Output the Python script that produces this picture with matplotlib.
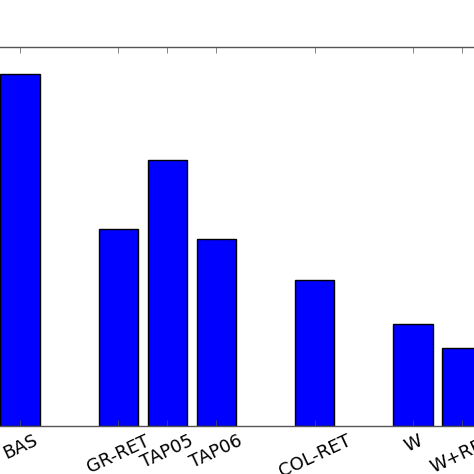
import matplotlib
matplotlib.use("Agg")
import matplotlib.pyplot as plt

plt.style.use("classic")

labels = ["BAS", "GR-RET", "TAP05", "TAP06", "COL-RET", "W", "W+RET"]
positions = [0, 2, 3, 4, 6, 8, 9]
values = [7.43, 4.16, 5.61, 3.95, 3.08, 2.15, 1.65]

fig = plt.figure(figsize=(4.74, 4.74), dpi=100)
fig.patch.set_facecolor("white")

# the picture is a crop of a wider axes: the left spine and y labels lie outside
ax = fig.add_axes([-29 / 474, 1 - 426 / 474, 545 / 474, 379 / 474])
ax.bar(positions, values, width=0.8, align="center", color="#0000ff", edgecolor="black")

ax.set_xlim(-1, 10.1)
ax.set_ylim(0, 8)
ax.set_yticks(range(0, 9))
ax.set_xticks(positions)
ax.set_xticklabels(labels, rotation=25, ha="center", fontsize=13)
ax.tick_params(axis="both", direction="in", length=4, color="#555555")
for s in ax.spines.values():
    s.set_color("#555555")

fig.savefig("out.png", dpi=100, facecolor="white")
